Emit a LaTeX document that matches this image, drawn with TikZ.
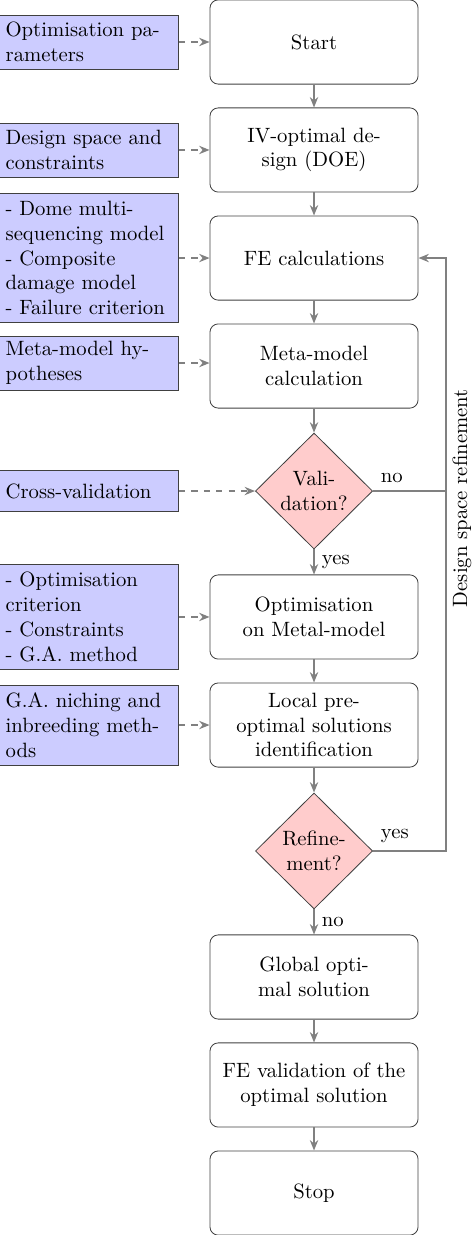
\documentclass[tikz,border=0pt]{standalone}
\usepackage{tikz}
\usepackage{color}
\usetikzlibrary{shapes.geometric,arrows.meta}

\begin{document}
\begin{tikzpicture}[%
      block/.style={rectangle, draw=black!75, rounded corners, text width=3.3cm,
        minimum width=3.53cm, minimum height=1.43cm, align=center},
      decision/.style={diamond, draw=black!75, fill=red!20, aspect=1, inner sep=0pt,
        minimum width=1.99cm, minimum height=1.97cm, align=center},
      param/.style={rectangle, draw=black!75, fill=blue!20, text width=2.82cm,
        minimum width=3.05cm, inner ysep=2.5pt, align=left, anchor=east},
      line/.style={draw=gray, line width=1pt, -{Stealth[length=5pt,width=4pt]}},
      dline/.style={line, dashed},
      ]
      \useasboundingbox (0,0) rectangle (8.05,-20.974);

      \node [block] (start) at (5.333,-0.713) {Start};
      \node [block] (doe) at (5.333,-2.547) {IV-optimal de-\\sign (DOE)};
      \node [block] (fecalc) at (5.333,-4.382) {FE calculations};
      \node [block] (meta) at (5.333,-6.216) {Meta-model\\calculation};
      \node [decision] (valid) at (5.333,-8.339) {Vali-\\dation?};
      \node [block] (optim) at (5.333,-10.478) {Optimisation\\on Metal-model};
      \node [block] (local) at (5.333,-12.313) {Local pre-\\optimal solutions\\identification};
      \node [decision] (refine) at (5.333,-14.452) {Refine-\\ment?};
      \node [block] (global) at (5.333,-16.592) {Global opti-\\mal solution};
      \node [block] (feval) at (5.333,-18.426) {FE validation of the\\optimal solution};
      \node [block] (stop) at (5.333,-20.261) {Stop};

      \node [param, minimum height=0.917cm] (optpar) at (3.04,-0.713) {Optimisation pa-\\rameters};
      \node [param, minimum height=0.917cm] (dspace) at (3.04,-2.547) {Design space and\\constraints};
      \node [param, minimum height=2.19cm] (models) at (3.04,-4.382) {- Dome multi-\\sequencing model\\- Composite\\damage model\\- Failure criterion};
      \node [param, minimum height=0.917cm] (metahyp) at (3.04,-6.165) {Meta-model hy-\\potheses};
      \node [param, minimum height=0.70cm] (crossval) at (3.04,-8.339) {Cross-validation};
      \node [param, minimum height=1.77cm] (optcrit) at (3.04,-10.478) {- Optimisation\\criterion\\- Constraints\\- G.A. method};
      \node [param, minimum height=1.36cm] (niching) at (3.04,-12.313) {G.A. niching and\\inbreeding meth-\\ods};

      \coordinate (fbk) at (7.575,-4.382);
      \node [rotate=90] (dsr) at (7.846,-8.46) {Design space refinement};

      \draw [line] (start) -- (doe);
      \draw [line] (doe) -- (fecalc);
      \draw [line] (fecalc) -- (meta);
      \draw [line] (meta) -- (valid);
      \draw [line] (valid) -- node [right] {yes} (optim);
      \draw [line] (optim) -- (local);
      \draw [line] (local) -- (refine);
      \draw [line] (refine) -- node [right] {no} (global);
      \draw [line] (global) -- (feval);
      \draw [line] (feval) -- (stop);

      \draw [line] (refine.east) node [above right] {yes} -| (fbk) -- (fecalc.east);
      \draw [draw=gray, line width=1pt] (valid.east) node [above right] {no} -- (valid.east -| fbk);

      \draw [dline] (optpar) -- (start);
      \draw [dline] (dspace) -- (doe);
      \draw [dline] (models) -- (fecalc);
      \draw [dline] (metahyp.east) -- (metahyp.east -| meta.west);
      \draw [dline] (crossval) -- (valid);
      \draw [dline] (optcrit) -- (optim);
      \draw [dline] (niching) -- (local);
      \end{tikzpicture}
\end{document}
